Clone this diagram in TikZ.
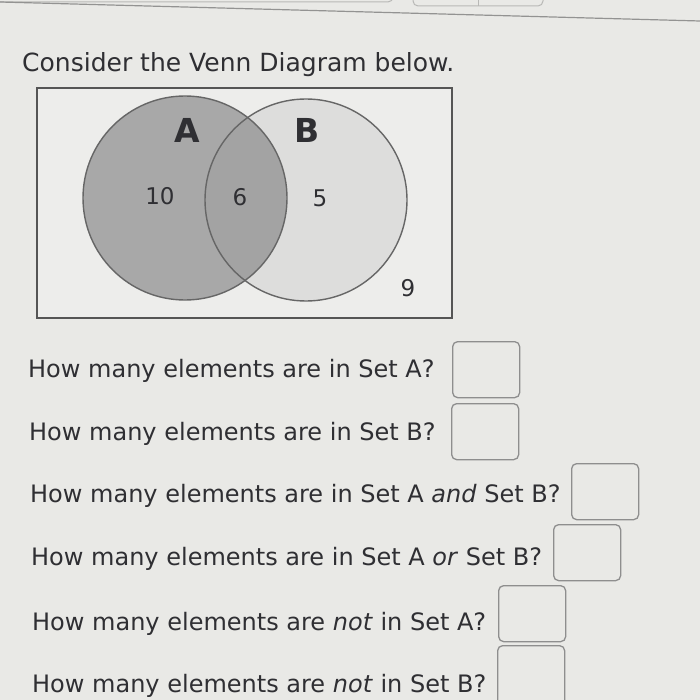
\documentclass[tikz,border=0pt]{standalone}
\usepackage{fontspec}
\setmainfont{DejaVu Sans}
\definecolor{bgc}{HTML}{E9E9E6}
\definecolor{framein}{HTML}{EDEDEB}
\definecolor{afill}{HTML}{A8A8A8}
\definecolor{bfill}{HTML}{DDDDDC}
\definecolor{abfill}{HTML}{A3A3A3}
\definecolor{circstroke}{HTML}{666666}
\definecolor{framestroke}{HTML}{555555}
\definecolor{txt}{HTML}{2F2F33}
\definecolor{boxstroke}{HTML}{8E8E8E}
\definecolor{faint}{HTML}{B8B8B6}
\tikzset{
  qtext/.style={anchor=base west, inner sep=0pt, text=txt, font=\fontsize{24}{29}\selectfont},
  ansbox/.style={draw=boxstroke, line width=1.3pt, rounded corners=5pt, anchor=north west,
                 minimum width=67pt, minimum height=56pt, inner sep=0pt},
  vnum/.style={inner sep=0pt, text=txt, font=\fontsize{23}{27}\selectfont},
  vlab/.style={inner sep=0pt, text=txt, font=\fontsize{33}{37}\selectfont\bfseries},
}
\begin{document}
\begin{tikzpicture}[x=1pt,y=-1pt]
\useasboundingbox (0,0) rectangle (700,700);
\fill[bgc] (0,0) rectangle (700,700);
% faint screen chrome at top
\draw[faint, line width=1pt, rounded corners=5pt] (-10,-20) -- (-10,2) -- (393,2) -- (393,-20);
\draw[faint, line width=1pt, rounded corners=5pt] (413,-20) -- (413,6) -- (543,6) -- (543,-20);
\draw[faint, line width=1pt] (478,-20) -- (478,6);
\draw[faint!80!black, line width=1.2pt] (0,2) -- (700,21);
% title
\node[qtext, font=\fontsize{25}{30}\selectfont] (title) at (22,72) {Consider the Venn Diagram below.};
% venn frame
\node[draw=framestroke, line width=1.6pt, fill=framein, anchor=north west, minimum width=415pt, minimum height=230pt, inner sep=0pt] (frame) at (36,87) {};
\coordinate (ca) at (185,198);
\coordinate (cb) at (306,200);
\fill[bfill] (cb) circle (101);
\fill[afill] (ca) circle (102);
\begin{scope}
  \clip (ca) circle (102);
  \fill[abfill] (cb) circle (101);
\end{scope}
\draw[circstroke, line width=1.4pt] (ca) circle (102);
\draw[circstroke, line width=1.4pt] (cb) circle (101);
\node[vlab] (labA) at (187,130) {A};
\node[vlab] (labB) at (307,130) {B};
\node[vnum] (n10) at (160,196) {10};
\node[vnum] (n6) at (240,197) {6};
\node[vnum] (n5) at (320,198) {5};
\node[vnum] (n9) at (408,288) {9};
% questions
\node[qtext] (q1) at (28,377) {How many elements are in Set A?};
\node[qtext] (q2) at (29,440) {How many elements are in Set B?};
\node[qtext] (q3) at (30,502) {How many elements are in Set A \textit{and} Set B?};
\node[qtext] (q4) at (31,565) {How many elements are in Set A \textit{or} Set B?};
\node[qtext] (q5) at (32,630) {How many elements are \textit{not} in Set A?};
\node[qtext] (q6) at (32,692) {How many elements are \textit{not} in Set B?};
% answer boxes
\node[ansbox] (b1) at (452,341) {};
\node[ansbox] (b2) at (451,403) {};
\node[ansbox] (b3) at (571,463) {};
\node[ansbox] (b4) at (553,524) {};
\node[ansbox] (b5) at (498,585) {};
\node[ansbox, minimum height=62pt] (b6) at (497,645) {};
\end{tikzpicture}
\end{document}
